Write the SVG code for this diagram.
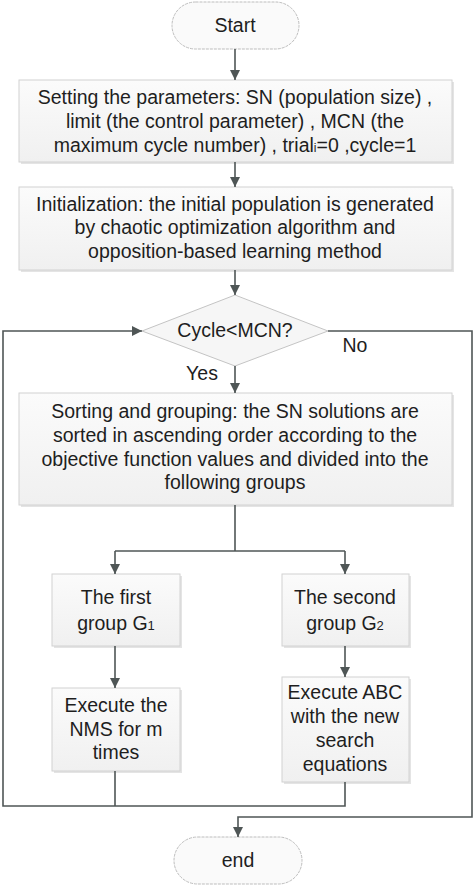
<svg xmlns="http://www.w3.org/2000/svg" width="474" height="889" viewBox="0 0 474 889">
<defs>
<linearGradient id="gf" x1="0" y1="0" x2="0" y2="1">
<stop offset="0" stop-color="#fbfbfb"/>
<stop offset="1" stop-color="#f0f0f0"/>
</linearGradient>
<marker id="ah" viewBox="0 0 10 10" refX="10" refY="5" markerWidth="10" markerHeight="10" markerUnits="userSpaceOnUse" orient="auto">
<path d="M0,0 L10,5 L0,10 Z" fill="#4f5656"/>
</marker>
</defs>
<style>
.box{fill:url(#gf);stroke:#d2d2d2;stroke-width:1}
.sh{fill:#e4e4e4;stroke:none}
.term{fill:#fafafa;stroke:#bdbdbd;stroke-width:1;stroke-dasharray:3 1}
.t{font-family:"Liberation Sans",Arial,sans-serif;font-size:19.5px;fill:#1e1e1e;text-anchor:middle}
.c{fill:none;stroke:#4f5656;stroke-width:1.6}
.ca{fill:none;stroke:#4f5656;stroke-width:1.6;marker-end:url(#ah)}
</style>

<g id="start">
<rect x="172" y="2" width="127" height="47" rx="23.5" class="term"/>
<text x="235" y="32" class="t">Start</text>
</g>

<g id="params">
<rect x="21" y="82" width="433" height="82" class="sh"/>
<rect x="19" y="80" width="433" height="82" class="box"/>
<text class="t"><tspan x="235" y="104">Setting the parameters: SN (population size) ,</tspan><tspan x="235" y="128">limit (the control parameter) , MCN (the</tspan><tspan x="235" y="152">maximum cycle number) , trial<tspan font-size="12">i</tspan>=0 ,cycle=1</tspan></text>
</g>

<g id="init">
<rect x="21" y="189" width="433" height="83" class="sh"/>
<rect x="19" y="187" width="433" height="83" class="box"/>
<text class="t"><tspan x="235" y="211">Initialization: the initial population is generated</tspan><tspan x="235" y="234">by chaotic optimization algorithm and</tspan><tspan x="235" y="258">opposition-based learning method</tspan></text>
</g>

<g id="decision">
<polygon points="235,295 328,331 235,366 142,331" fill="#f6f6f6" stroke="#c4c4c4" stroke-width="1"/>
<text x="235" y="337" class="t">Cycle&lt;MCN?</text>
</g>

<g id="sorting">
<rect x="21" y="395" width="433" height="112" class="sh"/>
<rect x="19" y="393" width="433" height="112" class="box"/>
<text class="t"><tspan x="235" y="418">Sorting and grouping: the SN solutions are</tspan><tspan x="235" y="442">sorted in ascending order according to the</tspan><tspan x="235" y="466">objective function values and divided into the</tspan><tspan x="235" y="489">following groups</tspan></text>
</g>

<g id="g1">
<rect x="54" y="576" width="128" height="72" class="sh"/>
<rect x="52" y="574" width="128" height="72" class="box"/>
<text class="t"><tspan x="116" y="604">The first</tspan><tspan x="116" y="630">group G<tspan font-size="13">1</tspan></tspan></text>
</g>

<g id="g2">
<rect x="284" y="576" width="127" height="72" class="sh"/>
<rect x="282" y="574" width="127" height="72" class="box"/>
<text class="t"><tspan x="345" y="604">The second</tspan><tspan x="345" y="630">group G<tspan font-size="13">2</tspan></tspan></text>
</g>

<g id="nms">
<rect x="54" y="690" width="128" height="83" class="sh"/>
<rect x="52" y="688" width="128" height="83" class="box"/>
<text class="t"><tspan x="116" y="712">Execute the</tspan><tspan x="116" y="736">NMS for m</tspan><tspan x="116" y="759">times</tspan></text>
</g>

<g id="abc">
<rect x="284" y="679" width="127" height="105" class="sh"/>
<rect x="282" y="677" width="127" height="105" class="box"/>
<text class="t"><tspan x="345" y="699">Execute ABC</tspan><tspan x="345" y="723">with the new</tspan><tspan x="345" y="747">search</tspan><tspan x="345" y="771">equations</tspan></text>
</g>

<g id="end">
<rect x="174" y="837" width="128" height="47" rx="23.5" class="term"/>
<text x="238" y="867" class="t">end</text>
</g>

<g id="connectors">
<line x1="235" y1="49" x2="235" y2="80" class="ca"/>
<line x1="235" y1="162" x2="235" y2="187" class="ca"/>
<line x1="235" y1="270" x2="235" y2="295" class="ca"/>
<line x1="235" y1="366" x2="235" y2="393" class="ca"/>
<polyline points="235,505 235,551" class="c"/>
<polyline points="115,551 345,551" class="c"/>
<line x1="115" y1="551" x2="115" y2="574" class="ca"/>
<line x1="345" y1="551" x2="345" y2="574" class="ca"/>
<line x1="115" y1="646" x2="115" y2="688" class="ca"/>
<line x1="345" y1="646" x2="345" y2="677" class="ca"/>
<polyline points="115,771 115,806" class="c"/>
<polyline points="345,782 345,806 3,806 3,331 142,331" class="ca"/>
<polyline points="328,331 472,331 472,817 238,817 238,837" class="ca"/>
<text x="355" y="352" class="t">No</text>
<text x="202" y="380" class="t">Yes</text>
</g>
</svg>
